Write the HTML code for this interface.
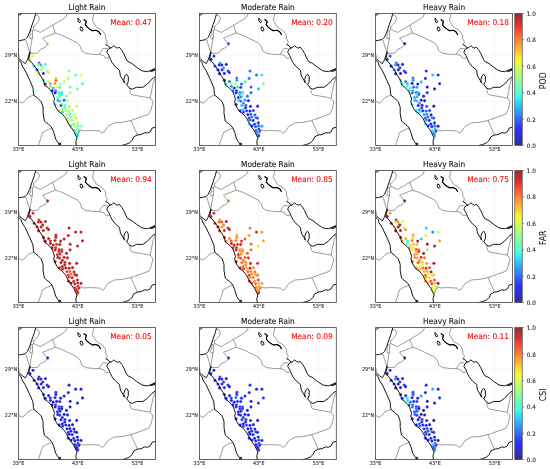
<!DOCTYPE html>
<html><head><meta charset="utf-8"><title>POD FAR CSI maps</title>
<style>
html,body{margin:0;padding:0;background:#fff;}
svg{display:block;font-family:"DejaVu Sans","Liberation Sans",sans-serif;}
.c{fill:none;stroke:#000;stroke-width:0.92;stroke-linejoin:round;stroke-linecap:round}
.b{fill:none;stroke:#4a4a4a;stroke-width:0.55;stroke-linejoin:round}
.g{fill:none;stroke:#eeeeee;stroke-width:0.42}
.f{fill:none;stroke:#404040;stroke-width:0.8}
.t{font-size:8.1px;fill:#1a1a1a;text-anchor:middle;stroke:#1a1a1a;stroke-width:0.12}
.m{font-size:7.9px;fill:#ff0808;text-anchor:end;stroke:#ff0808;stroke-width:0.12}
.k{font-size:5.5px;fill:#1a1a1a;stroke:#1a1a1a;stroke-width:0.08}
.cb{font-size:6px;fill:#1a1a1a;stroke:#1a1a1a;stroke-width:0.08}
.cl{font-size:8.4px;fill:#1a1a1a;text-anchor:middle;stroke:#1a1a1a;stroke-width:0.1}
</style></head><body>
<svg width="550" height="469" viewBox="0 0 550 469">
<defs>
<clipPath id="cp"><rect x="0" y="0" width="136.9" height="132.0"/></clipPath>
<linearGradient id="jet" x1="0" y1="1" x2="0" y2="0">

<stop offset="0.0000" stop-color="#000080"/>
<stop offset="0.0312" stop-color="#0000a4"/>
<stop offset="0.0625" stop-color="#0000c8"/>
<stop offset="0.0938" stop-color="#0000ed"/>
<stop offset="0.1250" stop-color="#0000ff"/>
<stop offset="0.1562" stop-color="#0020ff"/>
<stop offset="0.1875" stop-color="#0040ff"/>
<stop offset="0.2188" stop-color="#0060ff"/>
<stop offset="0.2500" stop-color="#0080ff"/>
<stop offset="0.2812" stop-color="#00a0ff"/>
<stop offset="0.3125" stop-color="#00c0ff"/>
<stop offset="0.3438" stop-color="#00e0fb"/>
<stop offset="0.3750" stop-color="#16ffe1"/>
<stop offset="0.4062" stop-color="#30ffc7"/>
<stop offset="0.4375" stop-color="#49ffad"/>
<stop offset="0.4688" stop-color="#63ff94"/>
<stop offset="0.5000" stop-color="#7dff7a"/>
<stop offset="0.5312" stop-color="#97ff60"/>
<stop offset="0.5625" stop-color="#b1ff46"/>
<stop offset="0.5938" stop-color="#caff2c"/>
<stop offset="0.6250" stop-color="#e4ff13"/>
<stop offset="0.6562" stop-color="#feed00"/>
<stop offset="0.6875" stop-color="#ffd000"/>
<stop offset="0.7188" stop-color="#ffb200"/>
<stop offset="0.7500" stop-color="#ff9400"/>
<stop offset="0.7812" stop-color="#ff7700"/>
<stop offset="0.8125" stop-color="#ff5900"/>
<stop offset="0.8438" stop-color="#ff3b00"/>
<stop offset="0.8750" stop-color="#ff1e00"/>
<stop offset="0.9062" stop-color="#e80000"/>
<stop offset="0.9375" stop-color="#c40000"/>
<stop offset="0.9688" stop-color="#9f0000"/>
<stop offset="1.0000" stop-color="#800000"/>
</linearGradient>
<g id="grid">
<path class="g" d="M59.3 0V132.0"/>
<path class="g" d="M119.1 0V132.0"/>
<path class="g" d="M0 41.8H136.9"/>
<path class="g" d="M0 87.8H136.9"/>
</g>
<g id="map" clip-path="url(#cp)">
<path class="b" d="M17.2 1.4 L19.6 2.3 L21.0 4.7 L20.1 8.0 L17.7 10.8 L15.4 13.1 L14.2 13.5 M15.4 13.1 L14.9 16.4 L14.0 17.3 L14.0 23.9 L13.0 28.6 L11.4 38.5 M14.0 17.3 L12.6 16.9 L11.6 18.8 L12.6 20.2 L11.6 22.0 L11.2 24.8 L12.6 25.8 L14.0 23.9 M7.4 26.6 L11.0 38.5 M14.9 15.9 L17.2 16.9 L21.9 19.0 L34.2 11.8 L43.5 6.3 L47.2 3.6 L49.0 0.0 M34.2 11.8 L36.9 19.6 M36.9 19.6 L24.1 24.7 L29.2 31.1 L26.9 33.8 L21.8 36.1 L19.1 39.8 L11.8 40.0 M36.9 19.6 L43.5 21.9 L58.6 29.3 L61.8 32.9 L63.2 37.5 L67.4 40.0 L76.5 41.1 L80.7 40.9 M80.7 40.9 L84.5 35.0 L89.3 35.4 M80.7 40.9 L85.1 42.1 L86.7 44.6 L90.3 45.0 M75.6 0.0 L73.8 6.8 L77.9 13.7 L83.9 17.3 L87.1 21.6 L87.1 25.4 L88.7 28.0 L88.3 30.6 L87.4 31.2 M0.0 87.9 L3.9 89.7 L6.7 87.4 L9.4 84.2 L12.2 82.8 L15.4 81.9 M33.5 114.7 L28.9 116.5 L24.0 119.3 L22.2 125.2 L19.7 132.0 M58.5 123.6 L60.2 119.2 L61.9 116.2 L64.6 117.4 L71.0 117.1 L81.1 117.5 L83.4 119.8 L85.7 118.5 L89.4 113.0 L95.9 109.4 L103.3 109.0 L112.4 107.1 M112.4 107.1 L118.9 121.6 M112.4 107.1 L130.3 100.7 L132.6 96.1 L134.5 88.3 L131.7 84.6 M131.7 84.6 L113.4 81.4 L112.0 79.6 L111.1 74.8 M131.7 84.6 L132.6 79.6 L134.7 69.6 L136.9 64.1 M105.8 69.4 L108.3 71.2"/>
<path class="c" d="M17.2 0.0 L15.8 5.2 L13.5 11.7 L11.2 18.8 L8.8 23.9 L6.5 26.2 L2.7 26.9 L0.0 27.4 M0.0 1.9 L1.3 1.5 L3.0 0.5 L3.5 0.0 M0.0 46.5 L2.6 49.3 L3.6 52.4 L6.7 57.2 L11.3 67.0 L14.5 74.4 L14.9 79.6 L15.4 81.9 L19.5 85.1 L22.7 88.3 L24.6 93.8 L24.6 99.8 L25.9 107.6 L26.9 108.5 L30.1 111.0 L31.4 112.0 L33.5 114.7 L35.4 119.3 L37.2 125.7 L39.9 129.8 L40.9 132.0 M40.9 132.0 L40.8 129.8 L41.9 129.6 L42.4 132.0 M0.0 40.4 L0.4 45.0 L1.5 46.2 L4.0 48.2 L6.8 50.2 L8.0 48.2 L8.9 46.3 L10.1 42.6 L11.3 38.5 L11.8 38.6 L10.9 42.6 L10.2 45.4 L10.6 47.2 L12.5 48.2 L15.3 52.0 L19.1 56.9 L21.4 61.5 L25.0 67.0 L25.9 71.6 L29.2 73.9 L31.5 76.1 L33.4 78.3 L34.9 82.0 L36.0 85.8 L35.2 88.4 L36.4 91.7 L37.8 94.7 L40.1 98.1 L43.4 100.3 L45.7 102.9 L47.3 105.0 L49.6 109.5 L52.5 114.0 L55.2 117.7 L57.0 121.5 L58.5 124.5 L57.4 128.1 L57.8 132.0 M87.4 31.2 L89.9 32.5 L91.5 34.7 L93.5 34.1 L95.1 32.2 L97.0 33.8 L98.9 34.7 L100.8 33.8 L103.4 37.0 L105.3 40.2 L107.2 44.6 L109.1 48.0 L113.4 50.1 L117.9 53.7 L123.4 57.4 L128.9 58.3 L132.6 56.9 L136.9 54.9 M91.5 34.7 L89.3 36.3 L88.3 38.9 L90.3 42.1 L91.9 45.9 L93.5 49.1 L96.8 53.3 L101.0 56.9 L101.9 62.5 L104.6 67.0 L105.8 69.4 L105.3 66.1 L106.5 62.2 L108.2 60.8 L109.8 63.4 L109.8 68.0 L108.3 71.2 L111.1 74.8 L113.8 75.8 L117.9 73.9 L124.4 73.9 L128.9 70.7 L133.5 65.7 L136.9 63.2 M136.9 113.8 L133.5 114.7 L131.7 118.4 L128.9 119.7 L126.2 119.3 L122.5 121.1 L118.9 121.6 L115.2 123.4 L113.8 126.6 L111.1 129.4 L106.9 131.2 L103.3 132.0 M132.3 57.9 L134.5 56.6 L136.9 55.7 L136.9 56.5 L134.7 57.5 L132.3 57.9 M65.5 6.3 L67.8 7.7 L66.9 11.4 L68.7 13.7 L71.0 15.5 L73.8 17.3 L77.4 16.9 L80.2 18.2 L82.0 21.0 M59.5 5.2 L60.8 6.2 L62.1 8.0 L61.5 9.2 L60.1 8.7 L59.4 6.9 L59.5 5.2 M62.1 13.7 L63.7 14.2 L64.6 16.6 L63.7 17.8 L62.2 17.0 L61.5 15.0 L62.1 13.7"/>
<path class="c" style="stroke-width:1.05" d="M65.5 6.3 L67.8 7.7 L66.9 11.4 L68.7 13.7 L71.0 15.5 L73.8 17.3 L77.4 16.9 L80.2 18.2 L82.0 21.0"/>
</g>
</defs>
<rect width="550" height="469" fill="#fff"/>
<g transform="translate(18.5 13.4)">
<use href="#grid"/>
<g fill-opacity="0.9" stroke="#fff" stroke-width="0.3">
<circle cx="29.1" cy="30.3" r="1.6" fill="#a4ff53"/>
<circle cx="14.5" cy="42.7" r="1.6" fill="#f8f500"/>
<circle cx="11.6" cy="45.9" r="1.6" fill="#ceff29"/>
<circle cx="20.5" cy="49.6" r="1.6" fill="#004cff"/>
<circle cx="19.9" cy="51.5" r="1.6" fill="#8dff6a"/>
<circle cx="22.4" cy="51.5" r="1.6" fill="#00b0ff"/>
<circle cx="26.9" cy="51.0" r="1.6" fill="#29ffce"/>
<circle cx="15.6" cy="52.8" r="1.6" fill="#0ff8e7"/>
<circle cx="24.2" cy="54.4" r="1.6" fill="#94ff63"/>
<circle cx="18.5" cy="56.4" r="1.6" fill="#002cff"/>
<circle cx="22.7" cy="56.4" r="1.6" fill="#9dff5a"/>
<circle cx="28.7" cy="57.6" r="1.6" fill="#8dff6a"/>
<circle cx="30.0" cy="59.1" r="1.6" fill="#9dff5a"/>
<circle cx="24.9" cy="60.0" r="1.6" fill="#0018ff"/>
<circle cx="20.0" cy="60.3" r="1.6" fill="#feed00"/>
<circle cx="37.4" cy="64.7" r="1.6" fill="#ffe200"/>
<circle cx="37.4" cy="66.9" r="1.6" fill="#ff4a00"/>
<circle cx="25.0" cy="66.9" r="1.6" fill="#00e4f8"/>
<circle cx="30.1" cy="68.1" r="1.6" fill="#ffe200"/>
<circle cx="45.6" cy="68.5" r="1.6" fill="#b4ff43"/>
<circle cx="36.5" cy="70.0" r="1.6" fill="#ff8200"/>
<circle cx="26.9" cy="70.7" r="1.6" fill="#960000"/>
<circle cx="31.9" cy="70.5" r="1.6" fill="#00bcff"/>
<circle cx="42.1" cy="70.6" r="1.6" fill="#8dff6a"/>
<circle cx="32.0" cy="72.9" r="1.6" fill="#ffc400"/>
<circle cx="34.8" cy="74.6" r="1.6" fill="#00b0ff"/>
<circle cx="38.1" cy="73.8" r="1.6" fill="#feed00"/>
<circle cx="41.3" cy="73.9" r="1.6" fill="#43ffb4"/>
<circle cx="33.6" cy="77.2" r="1.6" fill="#0000ff"/>
<circle cx="37.1" cy="77.4" r="1.6" fill="#0060ff"/>
<circle cx="36.7" cy="79.4" r="1.6" fill="#0000f1"/>
<circle cx="40.6" cy="79.2" r="1.6" fill="#00e4f8"/>
<circle cx="43.2" cy="79.4" r="1.6" fill="#00d0ff"/>
<circle cx="50.6" cy="57.6" r="1.6" fill="#7dff7a"/>
<circle cx="57.1" cy="61.6" r="1.6" fill="#39ffbe"/>
<circle cx="62.5" cy="61.6" r="1.6" fill="#e7ff0f"/>
<circle cx="49.8" cy="65.0" r="1.6" fill="#adff49"/>
<circle cx="64.0" cy="70.3" r="1.6" fill="#39ffbe"/>
<circle cx="51.7" cy="73.7" r="1.6" fill="#43ffb4"/>
<circle cx="59.0" cy="75.5" r="1.6" fill="#49ffad"/>
<circle cx="51.6" cy="79.3" r="1.6" fill="#adff49"/>
<circle cx="40.6" cy="81.2" r="1.6" fill="#29ffce"/>
<circle cx="43.2" cy="81.1" r="1.6" fill="#0ff8e7"/>
<circle cx="48.0" cy="82.8" r="1.6" fill="#39ffbe"/>
<circle cx="39.0" cy="84.2" r="1.6" fill="#43ffb4"/>
<circle cx="41.5" cy="83.6" r="1.6" fill="#7dff7a"/>
<circle cx="45.6" cy="86.8" r="1.6" fill="#004cff"/>
<circle cx="41.1" cy="87.6" r="1.6" fill="#0094ff"/>
<circle cx="39.3" cy="86.9" r="1.6" fill="#00b0ff"/>
<circle cx="49.0" cy="87.3" r="1.6" fill="#b4ff43"/>
<circle cx="43.9" cy="89.9" r="1.6" fill="#deff19"/>
<circle cx="36.7" cy="91.2" r="1.6" fill="#19ffde"/>
<circle cx="42.5" cy="92.1" r="1.6" fill="#002cff"/>
<circle cx="46.5" cy="91.9" r="1.6" fill="#30ffc7"/>
<circle cx="51.1" cy="92.9" r="1.6" fill="#7dff7a"/>
<circle cx="58.2" cy="92.8" r="1.6" fill="#ceff29"/>
<circle cx="40.8" cy="97.3" r="1.6" fill="#ffe200"/>
<circle cx="44.1" cy="98.5" r="1.6" fill="#00d0ff"/>
<circle cx="43.9" cy="96.2" r="1.6" fill="#7dff7a"/>
<circle cx="47.2" cy="97.4" r="1.6" fill="#7dff7a"/>
<circle cx="50.6" cy="97.7" r="1.6" fill="#adff49"/>
<circle cx="54.0" cy="97.1" r="1.6" fill="#b4ff43"/>
<circle cx="48.5" cy="101.2" r="1.6" fill="#adff49"/>
<circle cx="51.4" cy="101.0" r="1.6" fill="#19ffde"/>
<circle cx="55.5" cy="101.5" r="1.6" fill="#adff49"/>
<circle cx="49.9" cy="104.8" r="1.6" fill="#7dff7a"/>
<circle cx="52.3" cy="103.6" r="1.6" fill="#53ffa4"/>
<circle cx="56.3" cy="104.2" r="1.6" fill="#eeff09"/>
<circle cx="58.1" cy="104.7" r="1.6" fill="#b4ff43"/>
<circle cx="53.6" cy="107.0" r="1.6" fill="#6aff8d"/>
<circle cx="50.6" cy="106.6" r="1.6" fill="#deff19"/>
<circle cx="58.9" cy="109.5" r="1.6" fill="#beff39"/>
<circle cx="49.9" cy="110.6" r="1.6" fill="#feed00"/>
<circle cx="55.2" cy="110.8" r="1.6" fill="#43ffb4"/>
<circle cx="52.6" cy="112.5" r="1.6" fill="#1fffd7"/>
<circle cx="56.3" cy="113.3" r="1.6" fill="#e7ff0f"/>
<circle cx="59.3" cy="112.5" r="1.6" fill="#53ffa4"/>
<circle cx="62.5" cy="112.8" r="1.6" fill="#73ff83"/>
<circle cx="59.6" cy="115.9" r="1.6" fill="#7dff7a"/>
<circle cx="56.6" cy="117.0" r="1.6" fill="#19ffde"/>
<circle cx="57.8" cy="119.0" r="1.6" fill="#7dff7a"/>
<circle cx="60.4" cy="117.7" r="1.6" fill="#43ffb4"/>
<circle cx="59.3" cy="122.3" r="1.6" fill="#19ffde"/>
<circle cx="58.2" cy="120.5" r="1.6" fill="#0ff8e7"/>
<circle cx="46.2" cy="94.3" r="1.6" fill="#53ffa4"/>
</g>
<use href="#map"/>
<rect class="f" x="0" y="0" width="136.9" height="132.0"/>
<text class="t" transform="translate(68.5 -3.6) scale(0.915 1)">Light Rain</text>
<text class="m" transform="translate(133.3 11.6) scale(0.94 1)">Mean: 0.47</text>
<text class="k" transform="translate(0.0 137.5) scale(0.88 1)" text-anchor="middle">33°E</text>
<text class="k" transform="translate(59.3 137.5) scale(0.88 1)" text-anchor="middle">43°E</text>
<text class="k" transform="translate(119.1 137.5) scale(0.88 1)" text-anchor="middle">53°E</text>
<text class="k" transform="translate(-1.5 43.7) scale(0.88 1)" text-anchor="end">29°N</text>
<text class="k" transform="translate(-1.5 89.7) scale(0.88 1)" text-anchor="end">22°N</text>
</g>
<g transform="translate(199.4 13.4)">
<use href="#grid"/>
<g fill-opacity="0.9" stroke="#fff" stroke-width="0.3">
<circle cx="29.1" cy="30.3" r="1.6" fill="#004cff"/>
<circle cx="14.5" cy="42.7" r="1.6" fill="#000cff"/>
<circle cx="11.6" cy="45.9" r="1.6" fill="#0000f1"/>
<circle cx="20.5" cy="49.6" r="1.6" fill="#0094ff"/>
<circle cx="19.9" cy="51.5" r="1.6" fill="#0000ff"/>
<circle cx="22.4" cy="51.5" r="1.6" fill="#0000f1"/>
<circle cx="26.9" cy="51.0" r="1.6" fill="#00009f"/>
<circle cx="15.6" cy="52.8" r="1.6" fill="#0038ff"/>
<circle cx="24.2" cy="54.4" r="1.6" fill="#0094ff"/>
<circle cx="18.5" cy="56.4" r="1.6" fill="#0000b6"/>
<circle cx="22.7" cy="56.4" r="1.6" fill="#0000f1"/>
<circle cx="28.7" cy="57.6" r="1.6" fill="#0000ff"/>
<circle cx="30.0" cy="59.1" r="1.6" fill="#0000ff"/>
<circle cx="24.9" cy="60.0" r="1.6" fill="#0000da"/>
<circle cx="20.0" cy="60.3" r="1.6" fill="#0000da"/>
<circle cx="37.4" cy="64.7" r="1.6" fill="#0060ff"/>
<circle cx="37.4" cy="66.9" r="1.6" fill="#009cff"/>
<circle cx="25.0" cy="66.9" r="1.6" fill="#0000b6"/>
<circle cx="30.1" cy="68.1" r="1.6" fill="#004cff"/>
<circle cx="45.6" cy="68.5" r="1.6" fill="#19ffde"/>
<circle cx="36.5" cy="70.0" r="1.6" fill="#beff39"/>
<circle cx="26.9" cy="70.7" r="1.6" fill="#09f0ee"/>
<circle cx="31.9" cy="70.5" r="1.6" fill="#7dff7a"/>
<circle cx="42.1" cy="70.6" r="1.6" fill="#004cff"/>
<circle cx="32.0" cy="72.9" r="1.6" fill="#009cff"/>
<circle cx="34.8" cy="74.6" r="1.6" fill="#0000f1"/>
<circle cx="38.1" cy="73.8" r="1.6" fill="#00e4f8"/>
<circle cx="41.3" cy="73.9" r="1.6" fill="#002cff"/>
<circle cx="33.6" cy="77.2" r="1.6" fill="#0080ff"/>
<circle cx="37.1" cy="77.4" r="1.6" fill="#0000ff"/>
<circle cx="36.7" cy="79.4" r="1.6" fill="#0000f1"/>
<circle cx="40.6" cy="79.2" r="1.6" fill="#004cff"/>
<circle cx="43.2" cy="79.4" r="1.6" fill="#00b0ff"/>
<circle cx="50.6" cy="57.6" r="1.6" fill="#0060ff"/>
<circle cx="57.1" cy="61.6" r="1.6" fill="#004cff"/>
<circle cx="62.5" cy="61.6" r="1.6" fill="#00e4f8"/>
<circle cx="49.8" cy="65.0" r="1.6" fill="#0068ff"/>
<circle cx="64.0" cy="70.3" r="1.6" fill="#6aff8d"/>
<circle cx="51.7" cy="73.7" r="1.6" fill="#004cff"/>
<circle cx="59.0" cy="75.5" r="1.6" fill="#00b0ff"/>
<circle cx="51.6" cy="79.3" r="1.6" fill="#0060ff"/>
<circle cx="40.6" cy="81.2" r="1.6" fill="#00b0ff"/>
<circle cx="43.2" cy="81.1" r="1.6" fill="#7dff7a"/>
<circle cx="48.0" cy="82.8" r="1.6" fill="#0060ff"/>
<circle cx="39.0" cy="84.2" r="1.6" fill="#0000da"/>
<circle cx="41.5" cy="83.6" r="1.6" fill="#0080ff"/>
<circle cx="45.6" cy="86.8" r="1.6" fill="#0094ff"/>
<circle cx="41.1" cy="87.6" r="1.6" fill="#0018ff"/>
<circle cx="39.3" cy="86.9" r="1.6" fill="#00d0ff"/>
<circle cx="49.0" cy="87.3" r="1.6" fill="#0000ff"/>
<circle cx="43.9" cy="89.9" r="1.6" fill="#0080ff"/>
<circle cx="36.7" cy="91.2" r="1.6" fill="#00009f"/>
<circle cx="42.5" cy="92.1" r="1.6" fill="#009cff"/>
<circle cx="46.5" cy="91.9" r="1.6" fill="#004cff"/>
<circle cx="51.1" cy="92.9" r="1.6" fill="#0000da"/>
<circle cx="58.2" cy="92.8" r="1.6" fill="#0000da"/>
<circle cx="40.8" cy="97.3" r="1.6" fill="#0018ff"/>
<circle cx="44.1" cy="98.5" r="1.6" fill="#0000ff"/>
<circle cx="43.9" cy="96.2" r="1.6" fill="#00d0ff"/>
<circle cx="47.2" cy="97.4" r="1.6" fill="#0018ff"/>
<circle cx="50.6" cy="97.7" r="1.6" fill="#0000c4"/>
<circle cx="54.0" cy="97.1" r="1.6" fill="#0018ff"/>
<circle cx="48.5" cy="101.2" r="1.6" fill="#0000da"/>
<circle cx="51.4" cy="101.0" r="1.6" fill="#004cff"/>
<circle cx="55.5" cy="101.5" r="1.6" fill="#004cff"/>
<circle cx="49.9" cy="104.8" r="1.6" fill="#0000ad"/>
<circle cx="52.3" cy="103.6" r="1.6" fill="#0060ff"/>
<circle cx="56.3" cy="104.2" r="1.6" fill="#0080ff"/>
<circle cx="58.1" cy="104.7" r="1.6" fill="#002cff"/>
<circle cx="53.6" cy="107.0" r="1.6" fill="#0000f1"/>
<circle cx="50.6" cy="106.6" r="1.6" fill="#004cff"/>
<circle cx="58.9" cy="109.5" r="1.6" fill="#0000ff"/>
<circle cx="49.9" cy="110.6" r="1.6" fill="#00e4f8"/>
<circle cx="55.2" cy="110.8" r="1.6" fill="#0018ff"/>
<circle cx="52.6" cy="112.5" r="1.6" fill="#0004ff"/>
<circle cx="56.3" cy="113.3" r="1.6" fill="#0038ff"/>
<circle cx="59.3" cy="112.5" r="1.6" fill="#004cff"/>
<circle cx="62.5" cy="112.8" r="1.6" fill="#0094ff"/>
<circle cx="59.6" cy="115.9" r="1.6" fill="#0000ff"/>
<circle cx="56.6" cy="117.0" r="1.6" fill="#004cff"/>
<circle cx="57.8" cy="119.0" r="1.6" fill="#004cff"/>
<circle cx="60.4" cy="117.7" r="1.6" fill="#0060ff"/>
<circle cx="59.3" cy="122.3" r="1.6" fill="#0000f1"/>
<circle cx="58.2" cy="120.5" r="1.6" fill="#00b0ff"/>
<circle cx="46.2" cy="94.3" r="1.6" fill="#0000ff"/>
</g>
<use href="#map"/>
<rect class="f" x="0" y="0" width="136.9" height="132.0"/>
<text class="t" transform="translate(68.5 -3.6) scale(0.915 1)">Moderate Rain</text>
<text class="m" transform="translate(133.3 11.6) scale(0.94 1)">Mean: 0.20</text>
<text class="k" transform="translate(0.0 137.5) scale(0.88 1)" text-anchor="middle">33°E</text>
<text class="k" transform="translate(59.3 137.5) scale(0.88 1)" text-anchor="middle">43°E</text>
<text class="k" transform="translate(119.1 137.5) scale(0.88 1)" text-anchor="middle">53°E</text>
<text class="k" transform="translate(-1.5 43.7) scale(0.88 1)" text-anchor="end">29°N</text>
<text class="k" transform="translate(-1.5 89.7) scale(0.88 1)" text-anchor="end">22°N</text>
</g>
<g transform="translate(375.6 13.4)">
<use href="#grid"/>
<g fill-opacity="0.9" stroke="#fff" stroke-width="0.3">
<circle cx="29.1" cy="30.3" r="1.6" fill="#000096"/>
<circle cx="14.5" cy="42.7" r="1.6" fill="#002cff"/>
<circle cx="11.6" cy="45.9" r="1.6" fill="#00009f"/>
<circle cx="20.5" cy="49.6" r="1.6" fill="#004cff"/>
<circle cx="19.9" cy="51.5" r="1.6" fill="#009cff"/>
<circle cx="22.4" cy="51.5" r="1.6" fill="#0000ad"/>
<circle cx="26.9" cy="51.0" r="1.6" fill="#0004ff"/>
<circle cx="15.6" cy="52.8" r="1.6" fill="#00009f"/>
<circle cx="24.2" cy="54.4" r="1.6" fill="#0000c4"/>
<circle cx="18.5" cy="56.4" r="1.6" fill="#009cff"/>
<circle cx="22.7" cy="56.4" r="1.6" fill="#00009f"/>
<circle cx="28.7" cy="57.6" r="1.6" fill="#0000ff"/>
<circle cx="30.0" cy="59.1" r="1.6" fill="#0000f1"/>
<circle cx="24.9" cy="60.0" r="1.6" fill="#0000ad"/>
<circle cx="20.0" cy="60.3" r="1.6" fill="#0000ad"/>
<circle cx="37.4" cy="64.7" r="1.6" fill="#004cff"/>
<circle cx="37.4" cy="66.9" r="1.6" fill="#0094ff"/>
<circle cx="25.0" cy="66.9" r="1.6" fill="#09f0ee"/>
<circle cx="30.1" cy="68.1" r="1.6" fill="#0060ff"/>
<circle cx="45.6" cy="68.5" r="1.6" fill="#00b0ff"/>
<circle cx="36.5" cy="70.0" r="1.6" fill="#0000da"/>
<circle cx="26.9" cy="70.7" r="1.6" fill="#0ff8e7"/>
<circle cx="31.9" cy="70.5" r="1.6" fill="#00b0ff"/>
<circle cx="42.1" cy="70.6" r="1.6" fill="#000096"/>
<circle cx="32.0" cy="72.9" r="1.6" fill="#39ffbe"/>
<circle cx="34.8" cy="74.6" r="1.6" fill="#19ffde"/>
<circle cx="38.1" cy="73.8" r="1.6" fill="#004cff"/>
<circle cx="41.3" cy="73.9" r="1.6" fill="#0094ff"/>
<circle cx="33.6" cy="77.2" r="1.6" fill="#00e4f8"/>
<circle cx="37.1" cy="77.4" r="1.6" fill="#009cff"/>
<circle cx="36.7" cy="79.4" r="1.6" fill="#0060ff"/>
<circle cx="40.6" cy="79.2" r="1.6" fill="#0018ff"/>
<circle cx="43.2" cy="79.4" r="1.6" fill="#009cff"/>
<circle cx="50.6" cy="57.6" r="1.6" fill="#0004ff"/>
<circle cx="57.1" cy="61.6" r="1.6" fill="#00b0ff"/>
<circle cx="62.5" cy="61.6" r="1.6" fill="#0000f1"/>
<circle cx="49.8" cy="65.0" r="1.6" fill="#0000f1"/>
<circle cx="64.0" cy="70.3" r="1.6" fill="#0004ff"/>
<circle cx="51.7" cy="73.7" r="1.6" fill="#000096"/>
<circle cx="59.0" cy="75.5" r="1.6" fill="#000096"/>
<circle cx="51.6" cy="79.3" r="1.6" fill="#0018ff"/>
<circle cx="40.6" cy="81.2" r="1.6" fill="#39ffbe"/>
<circle cx="43.2" cy="81.1" r="1.6" fill="#004cff"/>
<circle cx="48.0" cy="82.8" r="1.6" fill="#00009f"/>
<circle cx="39.0" cy="84.2" r="1.6" fill="#0094ff"/>
<circle cx="41.5" cy="83.6" r="1.6" fill="#00b0ff"/>
<circle cx="45.6" cy="86.8" r="1.6" fill="#0000c4"/>
<circle cx="41.1" cy="87.6" r="1.6" fill="#0094ff"/>
<circle cx="39.3" cy="86.9" r="1.6" fill="#00b0ff"/>
<circle cx="49.0" cy="87.3" r="1.6" fill="#0000b6"/>
<circle cx="43.9" cy="89.9" r="1.6" fill="#0080ff"/>
<circle cx="36.7" cy="91.2" r="1.6" fill="#0ff8e7"/>
<circle cx="42.5" cy="92.1" r="1.6" fill="#0000f1"/>
<circle cx="46.5" cy="91.9" r="1.6" fill="#0000ff"/>
<circle cx="51.1" cy="92.9" r="1.6" fill="#002cff"/>
<circle cx="58.2" cy="92.8" r="1.6" fill="#000096"/>
<circle cx="40.8" cy="97.3" r="1.6" fill="#00e4f8"/>
<circle cx="44.1" cy="98.5" r="1.6" fill="#00e4f8"/>
<circle cx="43.9" cy="96.2" r="1.6" fill="#009cff"/>
<circle cx="47.2" cy="97.4" r="1.6" fill="#0000f1"/>
<circle cx="50.6" cy="97.7" r="1.6" fill="#004cff"/>
<circle cx="54.0" cy="97.1" r="1.6" fill="#0018ff"/>
<circle cx="48.5" cy="101.2" r="1.6" fill="#0094ff"/>
<circle cx="51.4" cy="101.0" r="1.6" fill="#0080ff"/>
<circle cx="55.5" cy="101.5" r="1.6" fill="#00009f"/>
<circle cx="49.9" cy="104.8" r="1.6" fill="#0018ff"/>
<circle cx="52.3" cy="103.6" r="1.6" fill="#0060ff"/>
<circle cx="56.3" cy="104.2" r="1.6" fill="#0080ff"/>
<circle cx="58.1" cy="104.7" r="1.6" fill="#0038ff"/>
<circle cx="53.6" cy="107.0" r="1.6" fill="#0000f1"/>
<circle cx="50.6" cy="106.6" r="1.6" fill="#0080ff"/>
<circle cx="58.9" cy="109.5" r="1.6" fill="#0000ff"/>
<circle cx="49.9" cy="110.6" r="1.6" fill="#09f0ee"/>
<circle cx="55.2" cy="110.8" r="1.6" fill="#0000ff"/>
<circle cx="52.6" cy="112.5" r="1.6" fill="#0018ff"/>
<circle cx="56.3" cy="113.3" r="1.6" fill="#0000f1"/>
<circle cx="59.3" cy="112.5" r="1.6" fill="#0060ff"/>
<circle cx="62.5" cy="112.8" r="1.6" fill="#0000ad"/>
<circle cx="59.6" cy="115.9" r="1.6" fill="#0094ff"/>
<circle cx="56.6" cy="117.0" r="1.6" fill="#19ffde"/>
<circle cx="57.8" cy="119.0" r="1.6" fill="#0094ff"/>
<circle cx="60.4" cy="117.7" r="1.6" fill="#004cff"/>
<circle cx="59.3" cy="122.3" r="1.6" fill="#00e4f8"/>
<circle cx="58.2" cy="120.5" r="1.6" fill="#0094ff"/>
<circle cx="46.2" cy="94.3" r="1.6" fill="#002cff"/>
</g>
<use href="#map"/>
<rect class="f" x="0" y="0" width="136.9" height="132.0"/>
<text class="t" transform="translate(68.5 -3.6) scale(0.915 1)">Heavy Rain</text>
<text class="m" transform="translate(133.3 11.6) scale(0.94 1)">Mean: 0.18</text>
<text class="k" transform="translate(0.0 137.5) scale(0.88 1)" text-anchor="middle">33°E</text>
<text class="k" transform="translate(59.3 137.5) scale(0.88 1)" text-anchor="middle">43°E</text>
<text class="k" transform="translate(119.1 137.5) scale(0.88 1)" text-anchor="middle">53°E</text>
<text class="k" transform="translate(-1.5 43.7) scale(0.88 1)" text-anchor="end">29°N</text>
<text class="k" transform="translate(-1.5 89.7) scale(0.88 1)" text-anchor="end">22°N</text>
</g>
<rect x="514.8" y="13.4" width="7.4" height="132.0" fill="url(#jet)" fill-opacity="0.82" stroke="#333" stroke-width="0.6"/>
<path d="M522.2 145.4h2" stroke="#333" stroke-width="0.5"/>
<text class="cb" transform="translate(526.7 147.9) scale(0.95 1)">0.0</text>
<path d="M522.2 119.0h2" stroke="#333" stroke-width="0.5"/>
<text class="cb" transform="translate(526.7 121.5) scale(0.95 1)">0.2</text>
<path d="M522.2 92.6h2" stroke="#333" stroke-width="0.5"/>
<text class="cb" transform="translate(526.7 95.1) scale(0.95 1)">0.4</text>
<path d="M522.2 66.2h2" stroke="#333" stroke-width="0.5"/>
<text class="cb" transform="translate(526.7 68.7) scale(0.95 1)">0.6</text>
<path d="M522.2 39.8h2" stroke="#333" stroke-width="0.5"/>
<text class="cb" transform="translate(526.7 42.3) scale(0.95 1)">0.8</text>
<path d="M522.2 13.4h2" stroke="#333" stroke-width="0.5"/>
<text class="cb" transform="translate(526.7 15.9) scale(0.95 1)">1.0</text>
<text class="cl" transform="translate(545.8 80.7) rotate(-90) scale(0.93 1)">POD</text>
<g transform="translate(18.5 170.5)">
<use href="#grid"/>
<g fill-opacity="0.9" stroke="#fff" stroke-width="0.3">
<circle cx="29.1" cy="30.3" r="1.6" fill="#b60000"/>
<circle cx="14.5" cy="42.7" r="1.6" fill="#f10800"/>
<circle cx="11.6" cy="45.9" r="1.6" fill="#f10800"/>
<circle cx="20.5" cy="49.6" r="1.6" fill="#b60000"/>
<circle cx="19.9" cy="51.5" r="1.6" fill="#b60000"/>
<circle cx="22.4" cy="51.5" r="1.6" fill="#b60000"/>
<circle cx="26.9" cy="51.0" r="1.6" fill="#b60000"/>
<circle cx="15.6" cy="52.8" r="1.6" fill="#b60000"/>
<circle cx="24.2" cy="54.4" r="1.6" fill="#b60000"/>
<circle cx="18.5" cy="56.4" r="1.6" fill="#b60000"/>
<circle cx="22.7" cy="56.4" r="1.6" fill="#b60000"/>
<circle cx="28.7" cy="57.6" r="1.6" fill="#b60000"/>
<circle cx="30.0" cy="59.1" r="1.6" fill="#b60000"/>
<circle cx="24.9" cy="60.0" r="1.6" fill="#b60000"/>
<circle cx="20.0" cy="60.3" r="1.6" fill="#b60000"/>
<circle cx="37.4" cy="64.7" r="1.6" fill="#b60000"/>
<circle cx="37.4" cy="66.9" r="1.6" fill="#b60000"/>
<circle cx="25.0" cy="66.9" r="1.6" fill="#b60000"/>
<circle cx="30.1" cy="68.1" r="1.6" fill="#b60000"/>
<circle cx="45.6" cy="68.5" r="1.6" fill="#b60000"/>
<circle cx="36.5" cy="70.0" r="1.6" fill="#b60000"/>
<circle cx="26.9" cy="70.7" r="1.6" fill="#b60000"/>
<circle cx="31.9" cy="70.5" r="1.6" fill="#b60000"/>
<circle cx="42.1" cy="70.6" r="1.6" fill="#b60000"/>
<circle cx="32.0" cy="72.9" r="1.6" fill="#b60000"/>
<circle cx="34.8" cy="74.6" r="1.6" fill="#b60000"/>
<circle cx="38.1" cy="73.8" r="1.6" fill="#f10800"/>
<circle cx="41.3" cy="73.9" r="1.6" fill="#b60000"/>
<circle cx="33.6" cy="77.2" r="1.6" fill="#b60000"/>
<circle cx="37.1" cy="77.4" r="1.6" fill="#b60000"/>
<circle cx="36.7" cy="79.4" r="1.6" fill="#b60000"/>
<circle cx="40.6" cy="79.2" r="1.6" fill="#b60000"/>
<circle cx="43.2" cy="79.4" r="1.6" fill="#b60000"/>
<circle cx="50.6" cy="57.6" r="1.6" fill="#b60000"/>
<circle cx="57.1" cy="61.6" r="1.6" fill="#b60000"/>
<circle cx="62.5" cy="61.6" r="1.6" fill="#b60000"/>
<circle cx="49.8" cy="65.0" r="1.6" fill="#b60000"/>
<circle cx="64.0" cy="70.3" r="1.6" fill="#b60000"/>
<circle cx="51.7" cy="73.7" r="1.6" fill="#b60000"/>
<circle cx="59.0" cy="75.5" r="1.6" fill="#b60000"/>
<circle cx="51.6" cy="79.3" r="1.6" fill="#b60000"/>
<circle cx="40.6" cy="81.2" r="1.6" fill="#b60000"/>
<circle cx="43.2" cy="81.1" r="1.6" fill="#f10800"/>
<circle cx="48.0" cy="82.8" r="1.6" fill="#b60000"/>
<circle cx="39.0" cy="84.2" r="1.6" fill="#b60000"/>
<circle cx="41.5" cy="83.6" r="1.6" fill="#f10800"/>
<circle cx="45.6" cy="86.8" r="1.6" fill="#b60000"/>
<circle cx="41.1" cy="87.6" r="1.6" fill="#b60000"/>
<circle cx="39.3" cy="86.9" r="1.6" fill="#b60000"/>
<circle cx="49.0" cy="87.3" r="1.6" fill="#b60000"/>
<circle cx="43.9" cy="89.9" r="1.6" fill="#b60000"/>
<circle cx="36.7" cy="91.2" r="1.6" fill="#b60000"/>
<circle cx="42.5" cy="92.1" r="1.6" fill="#b60000"/>
<circle cx="46.5" cy="91.9" r="1.6" fill="#b60000"/>
<circle cx="51.1" cy="92.9" r="1.6" fill="#b60000"/>
<circle cx="58.2" cy="92.8" r="1.6" fill="#b60000"/>
<circle cx="40.8" cy="97.3" r="1.6" fill="#b60000"/>
<circle cx="44.1" cy="98.5" r="1.6" fill="#b60000"/>
<circle cx="43.9" cy="96.2" r="1.6" fill="#b60000"/>
<circle cx="47.2" cy="97.4" r="1.6" fill="#b60000"/>
<circle cx="50.6" cy="97.7" r="1.6" fill="#b60000"/>
<circle cx="54.0" cy="97.1" r="1.6" fill="#b60000"/>
<circle cx="48.5" cy="101.2" r="1.6" fill="#ff1a00"/>
<circle cx="51.4" cy="101.0" r="1.6" fill="#ff3800"/>
<circle cx="55.5" cy="101.5" r="1.6" fill="#b60000"/>
<circle cx="49.9" cy="104.8" r="1.6" fill="#b60000"/>
<circle cx="52.3" cy="103.6" r="1.6" fill="#ff5500"/>
<circle cx="56.3" cy="104.2" r="1.6" fill="#b60000"/>
<circle cx="58.1" cy="104.7" r="1.6" fill="#b60000"/>
<circle cx="53.6" cy="107.0" r="1.6" fill="#b60000"/>
<circle cx="50.6" cy="106.6" r="1.6" fill="#ff1a00"/>
<circle cx="58.9" cy="109.5" r="1.6" fill="#b60000"/>
<circle cx="49.9" cy="110.6" r="1.6" fill="#b60000"/>
<circle cx="55.2" cy="110.8" r="1.6" fill="#b60000"/>
<circle cx="52.6" cy="112.5" r="1.6" fill="#b60000"/>
<circle cx="56.3" cy="113.3" r="1.6" fill="#b60000"/>
<circle cx="59.3" cy="112.5" r="1.6" fill="#b60000"/>
<circle cx="62.5" cy="112.8" r="1.6" fill="#b60000"/>
<circle cx="59.6" cy="115.9" r="1.6" fill="#b60000"/>
<circle cx="56.6" cy="117.0" r="1.6" fill="#ff1a00"/>
<circle cx="57.8" cy="119.0" r="1.6" fill="#b60000"/>
<circle cx="60.4" cy="117.7" r="1.6" fill="#ff1a00"/>
<circle cx="59.3" cy="122.3" r="1.6" fill="#b60000"/>
<circle cx="58.2" cy="120.5" r="1.6" fill="#f10800"/>
<circle cx="46.2" cy="94.3" r="1.6" fill="#b60000"/>
</g>
<use href="#map"/>
<rect class="f" x="0" y="0" width="136.9" height="132.0"/>
<text class="t" transform="translate(68.5 -3.6) scale(0.915 1)">Light Rain</text>
<text class="m" transform="translate(133.3 11.6) scale(0.94 1)">Mean: 0.94</text>
<text class="k" transform="translate(0.0 137.5) scale(0.88 1)" text-anchor="middle">33°E</text>
<text class="k" transform="translate(59.3 137.5) scale(0.88 1)" text-anchor="middle">43°E</text>
<text class="k" transform="translate(119.1 137.5) scale(0.88 1)" text-anchor="middle">53°E</text>
<text class="k" transform="translate(-1.5 43.7) scale(0.88 1)" text-anchor="end">29°N</text>
<text class="k" transform="translate(-1.5 89.7) scale(0.88 1)" text-anchor="end">22°N</text>
</g>
<g transform="translate(199.4 170.5)">
<use href="#grid"/>
<g fill-opacity="0.9" stroke="#fff" stroke-width="0.3">
<circle cx="29.1" cy="30.3" r="1.6" fill="#ff7a00"/>
<circle cx="14.5" cy="42.7" r="1.6" fill="#f10800"/>
<circle cx="11.6" cy="45.9" r="1.6" fill="#da0000"/>
<circle cx="20.5" cy="49.6" r="1.6" fill="#ff7a00"/>
<circle cx="19.9" cy="51.5" r="1.6" fill="#ff3800"/>
<circle cx="22.4" cy="51.5" r="1.6" fill="#ff3800"/>
<circle cx="26.9" cy="51.0" r="1.6" fill="#960000"/>
<circle cx="15.6" cy="52.8" r="1.6" fill="#da0000"/>
<circle cx="24.2" cy="54.4" r="1.6" fill="#ff6800"/>
<circle cx="18.5" cy="56.4" r="1.6" fill="#b60000"/>
<circle cx="22.7" cy="56.4" r="1.6" fill="#ff8200"/>
<circle cx="28.7" cy="57.6" r="1.6" fill="#9f0000"/>
<circle cx="30.0" cy="59.1" r="1.6" fill="#cd0000"/>
<circle cx="24.9" cy="60.0" r="1.6" fill="#cd0000"/>
<circle cx="20.0" cy="60.3" r="1.6" fill="#da0000"/>
<circle cx="37.4" cy="64.7" r="1.6" fill="#ffab00"/>
<circle cx="37.4" cy="66.9" r="1.6" fill="#ff8200"/>
<circle cx="25.0" cy="66.9" r="1.6" fill="#da0000"/>
<circle cx="30.1" cy="68.1" r="1.6" fill="#ff6800"/>
<circle cx="45.6" cy="68.5" r="1.6" fill="#ff3800"/>
<circle cx="36.5" cy="70.0" r="1.6" fill="#ff6800"/>
<circle cx="26.9" cy="70.7" r="1.6" fill="#ff7a00"/>
<circle cx="31.9" cy="70.5" r="1.6" fill="#ff3800"/>
<circle cx="42.1" cy="70.6" r="1.6" fill="#f10800"/>
<circle cx="32.0" cy="72.9" r="1.6" fill="#da0000"/>
<circle cx="34.8" cy="74.6" r="1.6" fill="#b60000"/>
<circle cx="38.1" cy="73.8" r="1.6" fill="#ff1a00"/>
<circle cx="41.3" cy="73.9" r="1.6" fill="#da0000"/>
<circle cx="33.6" cy="77.2" r="1.6" fill="#f10800"/>
<circle cx="37.1" cy="77.4" r="1.6" fill="#b60000"/>
<circle cx="36.7" cy="79.4" r="1.6" fill="#da0000"/>
<circle cx="40.6" cy="79.2" r="1.6" fill="#ff6800"/>
<circle cx="43.2" cy="79.4" r="1.6" fill="#ff6800"/>
<circle cx="50.6" cy="57.6" r="1.6" fill="#ff6800"/>
<circle cx="57.1" cy="61.6" r="1.6" fill="#da0000"/>
<circle cx="62.5" cy="61.6" r="1.6" fill="#ff8200"/>
<circle cx="49.8" cy="65.0" r="1.6" fill="#ff8d00"/>
<circle cx="64.0" cy="70.3" r="1.6" fill="#ff9400"/>
<circle cx="51.7" cy="73.7" r="1.6" fill="#ff5500"/>
<circle cx="59.0" cy="75.5" r="1.6" fill="#ffd700"/>
<circle cx="51.6" cy="79.3" r="1.6" fill="#ff4a00"/>
<circle cx="40.6" cy="81.2" r="1.6" fill="#ff9400"/>
<circle cx="43.2" cy="81.1" r="1.6" fill="#ff9400"/>
<circle cx="48.0" cy="82.8" r="1.6" fill="#ff3800"/>
<circle cx="39.0" cy="84.2" r="1.6" fill="#b60000"/>
<circle cx="41.5" cy="83.6" r="1.6" fill="#ff7a00"/>
<circle cx="45.6" cy="86.8" r="1.6" fill="#ff4a00"/>
<circle cx="41.1" cy="87.6" r="1.6" fill="#f10800"/>
<circle cx="39.3" cy="86.9" r="1.6" fill="#ff6800"/>
<circle cx="49.0" cy="87.3" r="1.6" fill="#f10800"/>
<circle cx="43.9" cy="89.9" r="1.6" fill="#ff6800"/>
<circle cx="36.7" cy="91.2" r="1.6" fill="#9f0000"/>
<circle cx="42.5" cy="92.1" r="1.6" fill="#ff3f00"/>
<circle cx="46.5" cy="91.9" r="1.6" fill="#ff7a00"/>
<circle cx="51.1" cy="92.9" r="1.6" fill="#da0000"/>
<circle cx="58.2" cy="92.8" r="1.6" fill="#f10800"/>
<circle cx="40.8" cy="97.3" r="1.6" fill="#b60000"/>
<circle cx="44.1" cy="98.5" r="1.6" fill="#f10800"/>
<circle cx="43.9" cy="96.2" r="1.6" fill="#ff3800"/>
<circle cx="47.2" cy="97.4" r="1.6" fill="#ffab00"/>
<circle cx="50.6" cy="97.7" r="1.6" fill="#cd0000"/>
<circle cx="54.0" cy="97.1" r="1.6" fill="#ff7a00"/>
<circle cx="48.5" cy="101.2" r="1.6" fill="#ff4a00"/>
<circle cx="51.4" cy="101.0" r="1.6" fill="#ff7a00"/>
<circle cx="55.5" cy="101.5" r="1.6" fill="#ff5500"/>
<circle cx="49.9" cy="104.8" r="1.6" fill="#ad0000"/>
<circle cx="52.3" cy="103.6" r="1.6" fill="#ff7a00"/>
<circle cx="56.3" cy="104.2" r="1.6" fill="#ff9400"/>
<circle cx="58.1" cy="104.7" r="1.6" fill="#ff6800"/>
<circle cx="53.6" cy="107.0" r="1.6" fill="#ff4a00"/>
<circle cx="50.6" cy="106.6" r="1.6" fill="#ff7a00"/>
<circle cx="58.9" cy="109.5" r="1.6" fill="#ff1a00"/>
<circle cx="49.9" cy="110.6" r="1.6" fill="#b60000"/>
<circle cx="55.2" cy="110.8" r="1.6" fill="#ff8200"/>
<circle cx="52.6" cy="112.5" r="1.6" fill="#ff3800"/>
<circle cx="56.3" cy="113.3" r="1.6" fill="#ff5500"/>
<circle cx="59.3" cy="112.5" r="1.6" fill="#ffb200"/>
<circle cx="62.5" cy="112.8" r="1.6" fill="#ff8d00"/>
<circle cx="59.6" cy="115.9" r="1.6" fill="#ff8200"/>
<circle cx="56.6" cy="117.0" r="1.6" fill="#ff4a00"/>
<circle cx="57.8" cy="119.0" r="1.6" fill="#ff8200"/>
<circle cx="60.4" cy="117.7" r="1.6" fill="#ff8d00"/>
<circle cx="59.3" cy="122.3" r="1.6" fill="#da0000"/>
<circle cx="58.2" cy="120.5" r="1.6" fill="#ff8200"/>
<circle cx="46.2" cy="94.3" r="1.6" fill="#ff8200"/>
</g>
<use href="#map"/>
<rect class="f" x="0" y="0" width="136.9" height="132.0"/>
<text class="t" transform="translate(68.5 -3.6) scale(0.915 1)">Moderate Rain</text>
<text class="m" transform="translate(133.3 11.6) scale(0.94 1)">Mean: 0.85</text>
<text class="k" transform="translate(0.0 137.5) scale(0.88 1)" text-anchor="middle">33°E</text>
<text class="k" transform="translate(59.3 137.5) scale(0.88 1)" text-anchor="middle">43°E</text>
<text class="k" transform="translate(119.1 137.5) scale(0.88 1)" text-anchor="middle">53°E</text>
<text class="k" transform="translate(-1.5 43.7) scale(0.88 1)" text-anchor="end">29°N</text>
<text class="k" transform="translate(-1.5 89.7) scale(0.88 1)" text-anchor="end">22°N</text>
</g>
<g transform="translate(375.6 170.5)">
<use href="#grid"/>
<g fill-opacity="0.9" stroke="#fff" stroke-width="0.3">
<circle cx="29.1" cy="30.3" r="1.6" fill="#800000"/>
<circle cx="14.5" cy="42.7" r="1.6" fill="#ff9400"/>
<circle cx="11.6" cy="45.9" r="1.6" fill="#960000"/>
<circle cx="20.5" cy="49.6" r="1.6" fill="#9f0000"/>
<circle cx="19.9" cy="51.5" r="1.6" fill="#8dff6a"/>
<circle cx="22.4" cy="51.5" r="1.6" fill="#ff7a00"/>
<circle cx="26.9" cy="51.0" r="1.6" fill="#ffe200"/>
<circle cx="15.6" cy="52.8" r="1.6" fill="#960000"/>
<circle cx="24.2" cy="54.4" r="1.6" fill="#960000"/>
<circle cx="18.5" cy="56.4" r="1.6" fill="#ffd700"/>
<circle cx="22.7" cy="56.4" r="1.6" fill="#960000"/>
<circle cx="28.7" cy="57.6" r="1.6" fill="#7dff7a"/>
<circle cx="30.0" cy="59.1" r="1.6" fill="#ff9400"/>
<circle cx="24.9" cy="60.0" r="1.6" fill="#960000"/>
<circle cx="20.0" cy="60.3" r="1.6" fill="#9f0000"/>
<circle cx="37.4" cy="64.7" r="1.6" fill="#ff9400"/>
<circle cx="37.4" cy="66.9" r="1.6" fill="#ffd700"/>
<circle cx="25.0" cy="66.9" r="1.6" fill="#cd0000"/>
<circle cx="30.1" cy="68.1" r="1.6" fill="#ff8d00"/>
<circle cx="45.6" cy="68.5" r="1.6" fill="#00c4ff"/>
<circle cx="36.5" cy="70.0" r="1.6" fill="#ff6800"/>
<circle cx="26.9" cy="70.7" r="1.6" fill="#ff9400"/>
<circle cx="31.9" cy="70.5" r="1.6" fill="#0ff8e7"/>
<circle cx="42.1" cy="70.6" r="1.6" fill="#890000"/>
<circle cx="32.0" cy="72.9" r="1.6" fill="#19ffde"/>
<circle cx="34.8" cy="74.6" r="1.6" fill="#ffd700"/>
<circle cx="38.1" cy="73.8" r="1.6" fill="#ffc400"/>
<circle cx="41.3" cy="73.9" r="1.6" fill="#ffb200"/>
<circle cx="33.6" cy="77.2" r="1.6" fill="#ff8d00"/>
<circle cx="37.1" cy="77.4" r="1.6" fill="#ffd700"/>
<circle cx="36.7" cy="79.4" r="1.6" fill="#ffe200"/>
<circle cx="40.6" cy="79.2" r="1.6" fill="#f10800"/>
<circle cx="43.2" cy="79.4" r="1.6" fill="#ff2d00"/>
<circle cx="50.6" cy="57.6" r="1.6" fill="#00d0ff"/>
<circle cx="57.1" cy="61.6" r="1.6" fill="#0080ff"/>
<circle cx="62.5" cy="61.6" r="1.6" fill="#beff39"/>
<circle cx="49.8" cy="65.0" r="1.6" fill="#ffe200"/>
<circle cx="64.0" cy="70.3" r="1.6" fill="#ff8d00"/>
<circle cx="51.7" cy="73.7" r="1.6" fill="#890000"/>
<circle cx="59.0" cy="75.5" r="1.6" fill="#890000"/>
<circle cx="51.6" cy="79.3" r="1.6" fill="#7dff7a"/>
<circle cx="40.6" cy="81.2" r="1.6" fill="#ffb200"/>
<circle cx="43.2" cy="81.1" r="1.6" fill="#f10800"/>
<circle cx="48.0" cy="82.8" r="1.6" fill="#890000"/>
<circle cx="39.0" cy="84.2" r="1.6" fill="#ff8d00"/>
<circle cx="41.5" cy="83.6" r="1.6" fill="#ff9f00"/>
<circle cx="45.6" cy="86.8" r="1.6" fill="#f10800"/>
<circle cx="41.1" cy="87.6" r="1.6" fill="#ff8200"/>
<circle cx="39.3" cy="86.9" r="1.6" fill="#ff9400"/>
<circle cx="49.0" cy="87.3" r="1.6" fill="#ff6800"/>
<circle cx="43.9" cy="89.9" r="1.6" fill="#ff7a00"/>
<circle cx="36.7" cy="91.2" r="1.6" fill="#ff3800"/>
<circle cx="42.5" cy="92.1" r="1.6" fill="#ff3800"/>
<circle cx="46.5" cy="91.9" r="1.6" fill="#ffb200"/>
<circle cx="51.1" cy="92.9" r="1.6" fill="#ff9400"/>
<circle cx="58.2" cy="92.8" r="1.6" fill="#890000"/>
<circle cx="40.8" cy="97.3" r="1.6" fill="#ff8d00"/>
<circle cx="44.1" cy="98.5" r="1.6" fill="#ff9f00"/>
<circle cx="43.9" cy="96.2" r="1.6" fill="#ceff29"/>
<circle cx="47.2" cy="97.4" r="1.6" fill="#ff5500"/>
<circle cx="50.6" cy="97.7" r="1.6" fill="#f10800"/>
<circle cx="54.0" cy="97.1" r="1.6" fill="#ff3800"/>
<circle cx="48.5" cy="101.2" r="1.6" fill="#ffb200"/>
<circle cx="51.4" cy="101.0" r="1.6" fill="#ff9400"/>
<circle cx="55.5" cy="101.5" r="1.6" fill="#890000"/>
<circle cx="49.9" cy="104.8" r="1.6" fill="#ff1a00"/>
<circle cx="52.3" cy="103.6" r="1.6" fill="#deff19"/>
<circle cx="56.3" cy="104.2" r="1.6" fill="#ffd700"/>
<circle cx="58.1" cy="104.7" r="1.6" fill="#ffb200"/>
<circle cx="53.6" cy="107.0" r="1.6" fill="#ffc400"/>
<circle cx="50.6" cy="106.6" r="1.6" fill="#ff9400"/>
<circle cx="58.9" cy="109.5" r="1.6" fill="#ff3800"/>
<circle cx="49.9" cy="110.6" r="1.6" fill="#ff8d00"/>
<circle cx="55.2" cy="110.8" r="1.6" fill="#ff3800"/>
<circle cx="52.6" cy="112.5" r="1.6" fill="#ffb200"/>
<circle cx="56.3" cy="113.3" r="1.6" fill="#ff1a00"/>
<circle cx="59.3" cy="112.5" r="1.6" fill="#ff9f00"/>
<circle cx="62.5" cy="112.8" r="1.6" fill="#890000"/>
<circle cx="59.6" cy="115.9" r="1.6" fill="#ffe200"/>
<circle cx="56.6" cy="117.0" r="1.6" fill="#7dff7a"/>
<circle cx="57.8" cy="119.0" r="1.6" fill="#ceff29"/>
<circle cx="60.4" cy="117.7" r="1.6" fill="#feed00"/>
<circle cx="59.3" cy="122.3" r="1.6" fill="#deff19"/>
<circle cx="58.2" cy="120.5" r="1.6" fill="#f8f500"/>
<circle cx="46.2" cy="94.3" r="1.6" fill="#ceff29"/>
</g>
<use href="#map"/>
<rect class="f" x="0" y="0" width="136.9" height="132.0"/>
<text class="t" transform="translate(68.5 -3.6) scale(0.915 1)">Heavy Rain</text>
<text class="m" transform="translate(133.3 11.6) scale(0.94 1)">Mean: 0.75</text>
<text class="k" transform="translate(0.0 137.5) scale(0.88 1)" text-anchor="middle">33°E</text>
<text class="k" transform="translate(59.3 137.5) scale(0.88 1)" text-anchor="middle">43°E</text>
<text class="k" transform="translate(119.1 137.5) scale(0.88 1)" text-anchor="middle">53°E</text>
<text class="k" transform="translate(-1.5 43.7) scale(0.88 1)" text-anchor="end">29°N</text>
<text class="k" transform="translate(-1.5 89.7) scale(0.88 1)" text-anchor="end">22°N</text>
</g>
<rect x="514.8" y="170.5" width="7.4" height="132.0" fill="url(#jet)" fill-opacity="0.82" stroke="#333" stroke-width="0.6"/>
<path d="M522.2 302.5h2" stroke="#333" stroke-width="0.5"/>
<text class="cb" transform="translate(526.7 305.0) scale(0.95 1)">0.0</text>
<path d="M522.2 276.1h2" stroke="#333" stroke-width="0.5"/>
<text class="cb" transform="translate(526.7 278.6) scale(0.95 1)">0.2</text>
<path d="M522.2 249.7h2" stroke="#333" stroke-width="0.5"/>
<text class="cb" transform="translate(526.7 252.2) scale(0.95 1)">0.4</text>
<path d="M522.2 223.3h2" stroke="#333" stroke-width="0.5"/>
<text class="cb" transform="translate(526.7 225.8) scale(0.95 1)">0.6</text>
<path d="M522.2 196.9h2" stroke="#333" stroke-width="0.5"/>
<text class="cb" transform="translate(526.7 199.4) scale(0.95 1)">0.8</text>
<path d="M522.2 170.5h2" stroke="#333" stroke-width="0.5"/>
<text class="cb" transform="translate(526.7 173.0) scale(0.95 1)">1.0</text>
<text class="cl" transform="translate(545.8 237.8) rotate(-90) scale(0.93 1)">FAR</text>
<g transform="translate(18.5 327.6)">
<use href="#grid"/>
<g fill-opacity="0.9" stroke="#fff" stroke-width="0.3">
<circle cx="29.1" cy="30.3" r="1.6" fill="#0000d6"/>
<circle cx="14.5" cy="42.7" r="1.6" fill="#0000d6"/>
<circle cx="11.6" cy="45.9" r="1.6" fill="#0000d6"/>
<circle cx="20.5" cy="49.6" r="1.6" fill="#0000d6"/>
<circle cx="19.9" cy="51.5" r="1.6" fill="#0000d6"/>
<circle cx="22.4" cy="51.5" r="1.6" fill="#0000d6"/>
<circle cx="26.9" cy="51.0" r="1.6" fill="#0000d6"/>
<circle cx="15.6" cy="52.8" r="1.6" fill="#0000d6"/>
<circle cx="24.2" cy="54.4" r="1.6" fill="#0000d6"/>
<circle cx="18.5" cy="56.4" r="1.6" fill="#0000d6"/>
<circle cx="22.7" cy="56.4" r="1.6" fill="#0000d6"/>
<circle cx="28.7" cy="57.6" r="1.6" fill="#0000d6"/>
<circle cx="30.0" cy="59.1" r="1.6" fill="#0000d6"/>
<circle cx="24.9" cy="60.0" r="1.6" fill="#0000d6"/>
<circle cx="20.0" cy="60.3" r="1.6" fill="#0000d6"/>
<circle cx="37.4" cy="64.7" r="1.6" fill="#0000d6"/>
<circle cx="37.4" cy="66.9" r="1.6" fill="#0000d6"/>
<circle cx="25.0" cy="66.9" r="1.6" fill="#0000d6"/>
<circle cx="30.1" cy="68.1" r="1.6" fill="#0000d6"/>
<circle cx="45.6" cy="68.5" r="1.6" fill="#0000d6"/>
<circle cx="36.5" cy="70.0" r="1.6" fill="#0000d6"/>
<circle cx="26.9" cy="70.7" r="1.6" fill="#0000d6"/>
<circle cx="31.9" cy="70.5" r="1.6" fill="#0000d6"/>
<circle cx="42.1" cy="70.6" r="1.6" fill="#0000d6"/>
<circle cx="32.0" cy="72.9" r="1.6" fill="#0000d6"/>
<circle cx="34.8" cy="74.6" r="1.6" fill="#0000d6"/>
<circle cx="38.1" cy="73.8" r="1.6" fill="#0000d6"/>
<circle cx="41.3" cy="73.9" r="1.6" fill="#0000d6"/>
<circle cx="33.6" cy="77.2" r="1.6" fill="#0000d6"/>
<circle cx="37.1" cy="77.4" r="1.6" fill="#0000d6"/>
<circle cx="36.7" cy="79.4" r="1.6" fill="#0000d6"/>
<circle cx="40.6" cy="79.2" r="1.6" fill="#0000d6"/>
<circle cx="43.2" cy="79.4" r="1.6" fill="#0000d6"/>
<circle cx="50.6" cy="57.6" r="1.6" fill="#0000d6"/>
<circle cx="57.1" cy="61.6" r="1.6" fill="#0000d6"/>
<circle cx="62.5" cy="61.6" r="1.6" fill="#0000d6"/>
<circle cx="49.8" cy="65.0" r="1.6" fill="#0000d6"/>
<circle cx="64.0" cy="70.3" r="1.6" fill="#0000d6"/>
<circle cx="51.7" cy="73.7" r="1.6" fill="#0000d6"/>
<circle cx="59.0" cy="75.5" r="1.6" fill="#0000d6"/>
<circle cx="51.6" cy="79.3" r="1.6" fill="#0000d6"/>
<circle cx="40.6" cy="81.2" r="1.6" fill="#0000d6"/>
<circle cx="43.2" cy="81.1" r="1.6" fill="#0000d6"/>
<circle cx="48.0" cy="82.8" r="1.6" fill="#0000d6"/>
<circle cx="39.0" cy="84.2" r="1.6" fill="#0000d6"/>
<circle cx="41.5" cy="83.6" r="1.6" fill="#0000d6"/>
<circle cx="45.6" cy="86.8" r="1.6" fill="#0000d6"/>
<circle cx="41.1" cy="87.6" r="1.6" fill="#0000d6"/>
<circle cx="39.3" cy="86.9" r="1.6" fill="#0000d6"/>
<circle cx="49.0" cy="87.3" r="1.6" fill="#0000d6"/>
<circle cx="43.9" cy="89.9" r="1.6" fill="#0000d6"/>
<circle cx="36.7" cy="91.2" r="1.6" fill="#0000d6"/>
<circle cx="42.5" cy="92.1" r="1.6" fill="#0000d6"/>
<circle cx="46.5" cy="91.9" r="1.6" fill="#0000d6"/>
<circle cx="51.1" cy="92.9" r="1.6" fill="#0000d6"/>
<circle cx="58.2" cy="92.8" r="1.6" fill="#0000d6"/>
<circle cx="40.8" cy="97.3" r="1.6" fill="#0000d6"/>
<circle cx="44.1" cy="98.5" r="1.6" fill="#0000d6"/>
<circle cx="43.9" cy="96.2" r="1.6" fill="#0000d6"/>
<circle cx="47.2" cy="97.4" r="1.6" fill="#0000d6"/>
<circle cx="50.6" cy="97.7" r="1.6" fill="#0000d6"/>
<circle cx="54.0" cy="97.1" r="1.6" fill="#0000d6"/>
<circle cx="48.5" cy="101.2" r="1.6" fill="#0000d6"/>
<circle cx="51.4" cy="101.0" r="1.6" fill="#0000d6"/>
<circle cx="55.5" cy="101.5" r="1.6" fill="#0000d6"/>
<circle cx="49.9" cy="104.8" r="1.6" fill="#0000d6"/>
<circle cx="52.3" cy="103.6" r="1.6" fill="#0000d6"/>
<circle cx="56.3" cy="104.2" r="1.6" fill="#0000d6"/>
<circle cx="58.1" cy="104.7" r="1.6" fill="#0000d6"/>
<circle cx="53.6" cy="107.0" r="1.6" fill="#0000d6"/>
<circle cx="50.6" cy="106.6" r="1.6" fill="#0000d6"/>
<circle cx="58.9" cy="109.5" r="1.6" fill="#0000d6"/>
<circle cx="49.9" cy="110.6" r="1.6" fill="#0000d6"/>
<circle cx="55.2" cy="110.8" r="1.6" fill="#0000d6"/>
<circle cx="52.6" cy="112.5" r="1.6" fill="#0000d6"/>
<circle cx="56.3" cy="113.3" r="1.6" fill="#0000d6"/>
<circle cx="59.3" cy="112.5" r="1.6" fill="#0000d6"/>
<circle cx="62.5" cy="112.8" r="1.6" fill="#0000d6"/>
<circle cx="59.6" cy="115.9" r="1.6" fill="#0000d6"/>
<circle cx="56.6" cy="117.0" r="1.6" fill="#0000d6"/>
<circle cx="57.8" cy="119.0" r="1.6" fill="#0000d6"/>
<circle cx="60.4" cy="117.7" r="1.6" fill="#0000d6"/>
<circle cx="59.3" cy="122.3" r="1.6" fill="#0000d6"/>
<circle cx="58.2" cy="120.5" r="1.6" fill="#0000d6"/>
<circle cx="46.2" cy="94.3" r="1.6" fill="#0000d6"/>
</g>
<use href="#map"/>
<rect class="f" x="0" y="0" width="136.9" height="132.0"/>
<text class="t" transform="translate(68.5 -3.6) scale(0.915 1)">Light Rain</text>
<text class="m" transform="translate(133.3 11.6) scale(0.94 1)">Mean: 0.05</text>
<text class="k" transform="translate(0.0 137.5) scale(0.88 1)" text-anchor="middle">33°E</text>
<text class="k" transform="translate(59.3 137.5) scale(0.88 1)" text-anchor="middle">43°E</text>
<text class="k" transform="translate(119.1 137.5) scale(0.88 1)" text-anchor="middle">53°E</text>
<text class="k" transform="translate(-1.5 43.7) scale(0.88 1)" text-anchor="end">29°N</text>
<text class="k" transform="translate(-1.5 89.7) scale(0.88 1)" text-anchor="end">22°N</text>
</g>
<g transform="translate(199.4 327.6)">
<use href="#grid"/>
<g fill-opacity="0.9" stroke="#fff" stroke-width="0.3">
<circle cx="29.1" cy="30.3" r="1.6" fill="#0018ff"/>
<circle cx="14.5" cy="42.7" r="1.6" fill="#0000f1"/>
<circle cx="11.6" cy="45.9" r="1.6" fill="#0000f1"/>
<circle cx="20.5" cy="49.6" r="1.6" fill="#0018ff"/>
<circle cx="19.9" cy="51.5" r="1.6" fill="#0000f1"/>
<circle cx="22.4" cy="51.5" r="1.6" fill="#0000f1"/>
<circle cx="26.9" cy="51.0" r="1.6" fill="#00009f"/>
<circle cx="15.6" cy="52.8" r="1.6" fill="#0000f1"/>
<circle cx="24.2" cy="54.4" r="1.6" fill="#0018ff"/>
<circle cx="18.5" cy="56.4" r="1.6" fill="#0000ad"/>
<circle cx="22.7" cy="56.4" r="1.6" fill="#0000f1"/>
<circle cx="28.7" cy="57.6" r="1.6" fill="#0000ad"/>
<circle cx="30.0" cy="59.1" r="1.6" fill="#0000f1"/>
<circle cx="24.9" cy="60.0" r="1.6" fill="#0000f1"/>
<circle cx="20.0" cy="60.3" r="1.6" fill="#0000f1"/>
<circle cx="37.4" cy="64.7" r="1.6" fill="#0000f1"/>
<circle cx="37.4" cy="66.9" r="1.6" fill="#0000f1"/>
<circle cx="25.0" cy="66.9" r="1.6" fill="#0000f1"/>
<circle cx="30.1" cy="68.1" r="1.6" fill="#0000f1"/>
<circle cx="45.6" cy="68.5" r="1.6" fill="#0000f1"/>
<circle cx="36.5" cy="70.0" r="1.6" fill="#0060ff"/>
<circle cx="26.9" cy="70.7" r="1.6" fill="#0000f1"/>
<circle cx="31.9" cy="70.5" r="1.6" fill="#0018ff"/>
<circle cx="42.1" cy="70.6" r="1.6" fill="#0000f1"/>
<circle cx="32.0" cy="72.9" r="1.6" fill="#0000f1"/>
<circle cx="34.8" cy="74.6" r="1.6" fill="#0000f1"/>
<circle cx="38.1" cy="73.8" r="1.6" fill="#0018ff"/>
<circle cx="41.3" cy="73.9" r="1.6" fill="#0000f1"/>
<circle cx="33.6" cy="77.2" r="1.6" fill="#0000f1"/>
<circle cx="37.1" cy="77.4" r="1.6" fill="#0000f1"/>
<circle cx="36.7" cy="79.4" r="1.6" fill="#0000f1"/>
<circle cx="40.6" cy="79.2" r="1.6" fill="#0000f1"/>
<circle cx="43.2" cy="79.4" r="1.6" fill="#0000f1"/>
<circle cx="50.6" cy="57.6" r="1.6" fill="#0000f1"/>
<circle cx="57.1" cy="61.6" r="1.6" fill="#0000f1"/>
<circle cx="62.5" cy="61.6" r="1.6" fill="#0004ff"/>
<circle cx="49.8" cy="65.0" r="1.6" fill="#0000f1"/>
<circle cx="64.0" cy="70.3" r="1.6" fill="#0018ff"/>
<circle cx="51.7" cy="73.7" r="1.6" fill="#0000f1"/>
<circle cx="59.0" cy="75.5" r="1.6" fill="#0018ff"/>
<circle cx="51.6" cy="79.3" r="1.6" fill="#0000f1"/>
<circle cx="40.6" cy="81.2" r="1.6" fill="#0000f1"/>
<circle cx="43.2" cy="81.1" r="1.6" fill="#002cff"/>
<circle cx="48.0" cy="82.8" r="1.6" fill="#0000f1"/>
<circle cx="39.0" cy="84.2" r="1.6" fill="#0000ad"/>
<circle cx="41.5" cy="83.6" r="1.6" fill="#0000f1"/>
<circle cx="45.6" cy="86.8" r="1.6" fill="#0000f1"/>
<circle cx="41.1" cy="87.6" r="1.6" fill="#0000f1"/>
<circle cx="39.3" cy="86.9" r="1.6" fill="#0000f1"/>
<circle cx="49.0" cy="87.3" r="1.6" fill="#0000f1"/>
<circle cx="43.9" cy="89.9" r="1.6" fill="#0000f1"/>
<circle cx="36.7" cy="91.2" r="1.6" fill="#00009f"/>
<circle cx="42.5" cy="92.1" r="1.6" fill="#002cff"/>
<circle cx="46.5" cy="91.9" r="1.6" fill="#0000f1"/>
<circle cx="51.1" cy="92.9" r="1.6" fill="#0000f1"/>
<circle cx="58.2" cy="92.8" r="1.6" fill="#0000f1"/>
<circle cx="40.8" cy="97.3" r="1.6" fill="#0000f1"/>
<circle cx="44.1" cy="98.5" r="1.6" fill="#0000f1"/>
<circle cx="43.9" cy="96.2" r="1.6" fill="#0000f1"/>
<circle cx="47.2" cy="97.4" r="1.6" fill="#002cff"/>
<circle cx="50.6" cy="97.7" r="1.6" fill="#0000f1"/>
<circle cx="54.0" cy="97.1" r="1.6" fill="#0000f1"/>
<circle cx="48.5" cy="101.2" r="1.6" fill="#0000f1"/>
<circle cx="51.4" cy="101.0" r="1.6" fill="#002cff"/>
<circle cx="55.5" cy="101.5" r="1.6" fill="#0000f1"/>
<circle cx="49.9" cy="104.8" r="1.6" fill="#00009f"/>
<circle cx="52.3" cy="103.6" r="1.6" fill="#0000f1"/>
<circle cx="56.3" cy="104.2" r="1.6" fill="#002cff"/>
<circle cx="58.1" cy="104.7" r="1.6" fill="#0000f1"/>
<circle cx="53.6" cy="107.0" r="1.6" fill="#0000f1"/>
<circle cx="50.6" cy="106.6" r="1.6" fill="#0000f1"/>
<circle cx="58.9" cy="109.5" r="1.6" fill="#0000f1"/>
<circle cx="49.9" cy="110.6" r="1.6" fill="#0000ad"/>
<circle cx="55.2" cy="110.8" r="1.6" fill="#0000f1"/>
<circle cx="52.6" cy="112.5" r="1.6" fill="#0000f1"/>
<circle cx="56.3" cy="113.3" r="1.6" fill="#0000f1"/>
<circle cx="59.3" cy="112.5" r="1.6" fill="#002cff"/>
<circle cx="62.5" cy="112.8" r="1.6" fill="#0000f1"/>
<circle cx="59.6" cy="115.9" r="1.6" fill="#0000f1"/>
<circle cx="56.6" cy="117.0" r="1.6" fill="#0000f1"/>
<circle cx="57.8" cy="119.0" r="1.6" fill="#0000f1"/>
<circle cx="60.4" cy="117.7" r="1.6" fill="#002cff"/>
<circle cx="59.3" cy="122.3" r="1.6" fill="#0000f1"/>
<circle cx="58.2" cy="120.5" r="1.6" fill="#0000f1"/>
<circle cx="46.2" cy="94.3" r="1.6" fill="#0000f1"/>
</g>
<use href="#map"/>
<rect class="f" x="0" y="0" width="136.9" height="132.0"/>
<text class="t" transform="translate(68.5 -3.6) scale(0.915 1)">Moderate Rain</text>
<text class="m" transform="translate(133.3 11.6) scale(0.94 1)">Mean: 0.09</text>
<text class="k" transform="translate(0.0 137.5) scale(0.88 1)" text-anchor="middle">33°E</text>
<text class="k" transform="translate(59.3 137.5) scale(0.88 1)" text-anchor="middle">43°E</text>
<text class="k" transform="translate(119.1 137.5) scale(0.88 1)" text-anchor="middle">53°E</text>
<text class="k" transform="translate(-1.5 43.7) scale(0.88 1)" text-anchor="end">29°N</text>
<text class="k" transform="translate(-1.5 89.7) scale(0.88 1)" text-anchor="end">22°N</text>
</g>
<g transform="translate(375.6 327.6)">
<use href="#grid"/>
<g fill-opacity="0.9" stroke="#fff" stroke-width="0.3">
<circle cx="29.1" cy="30.3" r="1.6" fill="#000096"/>
<circle cx="14.5" cy="42.7" r="1.6" fill="#0004ff"/>
<circle cx="11.6" cy="45.9" r="1.6" fill="#000096"/>
<circle cx="20.5" cy="49.6" r="1.6" fill="#0018ff"/>
<circle cx="19.9" cy="51.5" r="1.6" fill="#0080ff"/>
<circle cx="22.4" cy="51.5" r="1.6" fill="#0000ad"/>
<circle cx="26.9" cy="51.0" r="1.6" fill="#0000ff"/>
<circle cx="15.6" cy="52.8" r="1.6" fill="#000096"/>
<circle cx="24.2" cy="54.4" r="1.6" fill="#0000ad"/>
<circle cx="18.5" cy="56.4" r="1.6" fill="#0018ff"/>
<circle cx="22.7" cy="56.4" r="1.6" fill="#000096"/>
<circle cx="28.7" cy="57.6" r="1.6" fill="#0000ff"/>
<circle cx="30.0" cy="59.1" r="1.6" fill="#0000f1"/>
<circle cx="24.9" cy="60.0" r="1.6" fill="#00009f"/>
<circle cx="20.0" cy="60.3" r="1.6" fill="#00009f"/>
<circle cx="37.4" cy="64.7" r="1.6" fill="#000cff"/>
<circle cx="37.4" cy="66.9" r="1.6" fill="#002cff"/>
<circle cx="25.0" cy="66.9" r="1.6" fill="#0000b6"/>
<circle cx="30.1" cy="68.1" r="1.6" fill="#000cff"/>
<circle cx="45.6" cy="68.5" r="1.6" fill="#0094ff"/>
<circle cx="36.5" cy="70.0" r="1.6" fill="#0000da"/>
<circle cx="26.9" cy="70.7" r="1.6" fill="#002cff"/>
<circle cx="31.9" cy="70.5" r="1.6" fill="#00e4f8"/>
<circle cx="42.1" cy="70.6" r="1.6" fill="#000096"/>
<circle cx="32.0" cy="72.9" r="1.6" fill="#00e4f8"/>
<circle cx="34.8" cy="74.6" r="1.6" fill="#004cff"/>
<circle cx="38.1" cy="73.8" r="1.6" fill="#0018ff"/>
<circle cx="41.3" cy="73.9" r="1.6" fill="#0018ff"/>
<circle cx="33.6" cy="77.2" r="1.6" fill="#0060ff"/>
<circle cx="37.1" cy="77.4" r="1.6" fill="#004cff"/>
<circle cx="36.7" cy="79.4" r="1.6" fill="#0060ff"/>
<circle cx="40.6" cy="79.2" r="1.6" fill="#0000da"/>
<circle cx="43.2" cy="79.4" r="1.6" fill="#0000f1"/>
<circle cx="50.6" cy="57.6" r="1.6" fill="#0000ff"/>
<circle cx="57.1" cy="61.6" r="1.6" fill="#00b0ff"/>
<circle cx="62.5" cy="61.6" r="1.6" fill="#0000f1"/>
<circle cx="49.8" cy="65.0" r="1.6" fill="#0000f1"/>
<circle cx="64.0" cy="70.3" r="1.6" fill="#0000f1"/>
<circle cx="51.7" cy="73.7" r="1.6" fill="#000096"/>
<circle cx="59.0" cy="75.5" r="1.6" fill="#000096"/>
<circle cx="51.6" cy="79.3" r="1.6" fill="#0000ff"/>
<circle cx="40.6" cy="81.2" r="1.6" fill="#0068ff"/>
<circle cx="43.2" cy="81.1" r="1.6" fill="#0000f1"/>
<circle cx="48.0" cy="82.8" r="1.6" fill="#00009f"/>
<circle cx="39.0" cy="84.2" r="1.6" fill="#000cff"/>
<circle cx="41.5" cy="83.6" r="1.6" fill="#004cff"/>
<circle cx="45.6" cy="86.8" r="1.6" fill="#0000b6"/>
<circle cx="41.1" cy="87.6" r="1.6" fill="#0004ff"/>
<circle cx="39.3" cy="86.9" r="1.6" fill="#004cff"/>
<circle cx="49.0" cy="87.3" r="1.6" fill="#0000b6"/>
<circle cx="43.9" cy="89.9" r="1.6" fill="#0018ff"/>
<circle cx="36.7" cy="91.2" r="1.6" fill="#0000f1"/>
<circle cx="42.5" cy="92.1" r="1.6" fill="#0000c4"/>
<circle cx="46.5" cy="91.9" r="1.6" fill="#0000ff"/>
<circle cx="51.1" cy="92.9" r="1.6" fill="#0000f1"/>
<circle cx="58.2" cy="92.8" r="1.6" fill="#000096"/>
<circle cx="40.8" cy="97.3" r="1.6" fill="#0000ff"/>
<circle cx="44.1" cy="98.5" r="1.6" fill="#004cff"/>
<circle cx="43.9" cy="96.2" r="1.6" fill="#004cff"/>
<circle cx="47.2" cy="97.4" r="1.6" fill="#0000f1"/>
<circle cx="50.6" cy="97.7" r="1.6" fill="#0000f1"/>
<circle cx="54.0" cy="97.1" r="1.6" fill="#0000f1"/>
<circle cx="48.5" cy="101.2" r="1.6" fill="#0018ff"/>
<circle cx="51.4" cy="101.0" r="1.6" fill="#0038ff"/>
<circle cx="55.5" cy="101.5" r="1.6" fill="#00009f"/>
<circle cx="49.9" cy="104.8" r="1.6" fill="#0000da"/>
<circle cx="52.3" cy="103.6" r="1.6" fill="#0038ff"/>
<circle cx="56.3" cy="104.2" r="1.6" fill="#0038ff"/>
<circle cx="58.1" cy="104.7" r="1.6" fill="#0000ff"/>
<circle cx="53.6" cy="107.0" r="1.6" fill="#0000f1"/>
<circle cx="50.6" cy="106.6" r="1.6" fill="#0038ff"/>
<circle cx="58.9" cy="109.5" r="1.6" fill="#0000f1"/>
<circle cx="49.9" cy="110.6" r="1.6" fill="#0004ff"/>
<circle cx="55.2" cy="110.8" r="1.6" fill="#0000da"/>
<circle cx="52.6" cy="112.5" r="1.6" fill="#0004ff"/>
<circle cx="56.3" cy="113.3" r="1.6" fill="#0000f1"/>
<circle cx="59.3" cy="112.5" r="1.6" fill="#0038ff"/>
<circle cx="62.5" cy="112.8" r="1.6" fill="#00009f"/>
<circle cx="59.6" cy="115.9" r="1.6" fill="#0038ff"/>
<circle cx="56.6" cy="117.0" r="1.6" fill="#00d0ff"/>
<circle cx="57.8" cy="119.0" r="1.6" fill="#004cff"/>
<circle cx="60.4" cy="117.7" r="1.6" fill="#002cff"/>
<circle cx="59.3" cy="122.3" r="1.6" fill="#0094ff"/>
<circle cx="58.2" cy="120.5" r="1.6" fill="#004cff"/>
<circle cx="46.2" cy="94.3" r="1.6" fill="#0018ff"/>
</g>
<use href="#map"/>
<rect class="f" x="0" y="0" width="136.9" height="132.0"/>
<text class="t" transform="translate(68.5 -3.6) scale(0.915 1)">Heavy Rain</text>
<text class="m" transform="translate(133.3 11.6) scale(0.94 1)">Mean: 0.11</text>
<text class="k" transform="translate(0.0 137.5) scale(0.88 1)" text-anchor="middle">33°E</text>
<text class="k" transform="translate(59.3 137.5) scale(0.88 1)" text-anchor="middle">43°E</text>
<text class="k" transform="translate(119.1 137.5) scale(0.88 1)" text-anchor="middle">53°E</text>
<text class="k" transform="translate(-1.5 43.7) scale(0.88 1)" text-anchor="end">29°N</text>
<text class="k" transform="translate(-1.5 89.7) scale(0.88 1)" text-anchor="end">22°N</text>
</g>
<rect x="514.8" y="327.6" width="7.4" height="132.0" fill="url(#jet)" fill-opacity="0.82" stroke="#333" stroke-width="0.6"/>
<path d="M522.2 459.6h2" stroke="#333" stroke-width="0.5"/>
<text class="cb" transform="translate(526.7 462.1) scale(0.95 1)">0.0</text>
<path d="M522.2 433.2h2" stroke="#333" stroke-width="0.5"/>
<text class="cb" transform="translate(526.7 435.7) scale(0.95 1)">0.2</text>
<path d="M522.2 406.8h2" stroke="#333" stroke-width="0.5"/>
<text class="cb" transform="translate(526.7 409.3) scale(0.95 1)">0.4</text>
<path d="M522.2 380.4h2" stroke="#333" stroke-width="0.5"/>
<text class="cb" transform="translate(526.7 382.9) scale(0.95 1)">0.6</text>
<path d="M522.2 354.0h2" stroke="#333" stroke-width="0.5"/>
<text class="cb" transform="translate(526.7 356.5) scale(0.95 1)">0.8</text>
<path d="M522.2 327.6h2" stroke="#333" stroke-width="0.5"/>
<text class="cb" transform="translate(526.7 330.1) scale(0.95 1)">1.0</text>
<text class="cl" transform="translate(545.8 394.9) rotate(-90) scale(0.93 1)">CSI</text>
</svg></body></html>
